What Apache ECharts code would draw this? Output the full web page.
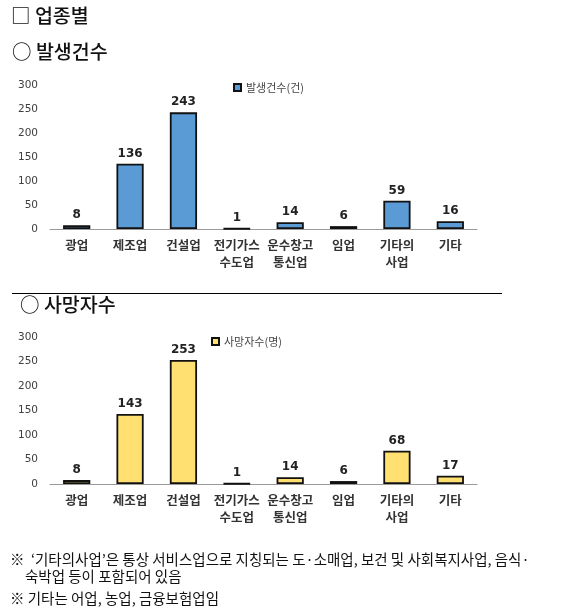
<!DOCTYPE html>
<html><head><meta charset="utf-8">
<script src="https://cdn.jsdelivr.net/npm/echarts@6/dist/echarts.min.js"></script>
<style>html,body{margin:0;padding:0;background:#fff}#c{width:569px;height:614px}</style>
</head><body><div id="c"></div>
<script>
const categories = ['광업','제조업','건설업','전기가스\n수도업','운수창고\n통신업','임업','기타의\n사업','기타'];
const occurrences = [8,136,243,1,14,6,59,16];
const deaths = [8,143,253,1,14,6,68,17];
const yTicks = [0,50,100,150,200,250,300];
const seriesNames = ['발생건수(건)','사망자수(명)'];

const chart = echarts.init(document.getElementById('c'), null, {renderer:'canvas'});
const KR = '"Noto Sans CJK KR","Noto Sans",sans-serif';
function xAxis(i){return {gridIndex:i,type:'category',data:categories,
  axisLine:{lineStyle:{color:'#9a9a9a',width:1}},axisTick:{show:false},
  axisLabel:{color:'#333',fontFamily:KR,fontWeight:'bold',fontSize:12.5,lineHeight:17,margin:8,interval:0}};}
function yAxis(i){return {gridIndex:i,type:'value',min:yTicks[0],max:yTicks[yTicks.length-1],interval:50,
  splitLine:{show:false},axisLine:{show:false},axisTick:{show:false},
  axisLabel:{color:'#404040',fontFamily:'"DejaVu Sans",sans-serif',fontSize:10.5,margin:12}};}
function bar(i,name,data,color){return {type:'bar',name:name,xAxisIndex:i,yAxisIndex:i,data:data,barWidth:'51%',
  itemStyle:{color:color,borderColor:'#111',borderWidth:1.8},
  label:{show:true,position:'top',distance:4,color:'#222',fontFamily:'"DejaVu Sans",sans-serif',fontWeight:'bold',fontSize:12}};}
chart.setOption({
  animation:false,
  grid:[{left:50,right:92,top:85,height:144},{left:50,right:92,top:337,height:147}],
  xAxis:[xAxis(0),xAxis(1)],
  yAxis:[yAxis(0),yAxis(1)],
  legend:[
    {data:[seriesNames[0]],left:228,top:77,itemWidth:7,itemHeight:7,itemGap:4,icon:'rect',
     textStyle:{fontFamily:KR,fontSize:11,color:'#444'}},
    {data:[seriesNames[1]],left:206,top:331,itemWidth:7,itemHeight:7,itemGap:4,icon:'rect',
     textStyle:{fontFamily:KR,fontSize:11,color:'#444'}}
  ],
  series:[bar(0,seriesNames[0],occurrences,'#5B9BD5'),bar(1,seriesNames[1],deaths,'#FFE071')],
  graphic:[
    {type:'text',left:11,top:6,style:{text:'□ 업종별',font:'500 19.5px '+KR,fill:'#111'}},
    {type:'text',left:12,top:42,style:{text:'○ 발생건수',font:'500 19.5px '+KR,fill:'#111'}},
    {type:'line',shape:{x1:12,y1:293.5,x2:502,y2:293.5},style:{stroke:'#000',lineWidth:1}},
    {type:'text',left:20,top:295,style:{text:'○ 사망자수',font:'500 19.5px '+KR,fill:'#111'}},
    {type:'text',left:10,top:552,style:{text:'※  ‘기타의사업’은 통상 서비스업으로 지칭되는 도·소매업, 보건 및 사회복지사업, 음식·',font:'14.5px '+KR,fill:'#111'}},
    {type:'text',left:25,top:569,style:{text:'숙박업 등이 포함되어 있음',font:'14.5px '+KR,fill:'#111'}},
    {type:'text',left:10,top:591,style:{text:'※ 기타는 어업, 농업, 금융보험업임',font:'14.5px '+KR,fill:'#111'}}
  ]
});
</script></body></html>
